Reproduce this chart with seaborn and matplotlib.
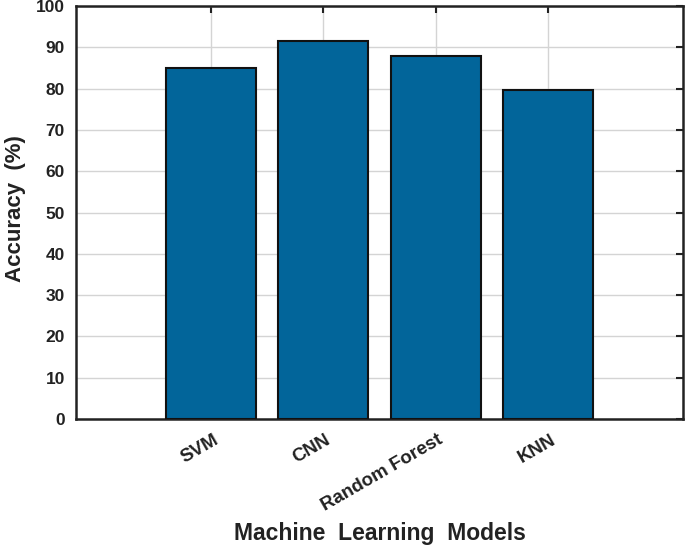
import matplotlib
matplotlib.use("Agg")
import matplotlib.pyplot as plt
import matplotlib.transforms as mtransforms
import seaborn as sns
import pandas as pd

models = ["SVM", "CNN", "Random Forest", "KNN"]
accuracy = [85.0, 91.6, 88.0, 79.7]
yticks = [0, 10, 20, 30, 40, 50, 60, 70, 80, 90, 100]

df = pd.DataFrame({"model": models, "accuracy": accuracy})

sns.set_style("white")
plt.rcParams["font.family"] = ["Liberation Sans", "DejaVu Sans"]
plt.rcParams["font.weight"] = "bold"

fig = plt.figure(figsize=(6.85, 5.47), dpi=100)
ax = fig.add_axes([0.111, 0.234, 0.886, 0.755])

sns.barplot(data=df, x="model", y="accuracy", color="#02659a", saturation=1,
            width=0.8, edgecolor="#111111", linewidth=1.5, ax=ax, zorder=3)

ax.set_xlim(-1.2, 4.2)
ax.set_ylim(0, 100)
ax.set_yticks(yticks)
ax.grid(True, color="#d4d4d4", linewidth=1.0, zorder=0)
ax.set_axisbelow(True)
for s in ax.spines.values():
    s.set_linewidth(1.8)
    s.set_color("#222222")

ax.tick_params(axis="both", direction="in", length=5, width=1.5,
               top=True, right=True, colors="#222222")
ax.tick_params(axis="y", labelsize=12.5, pad=8)
ax.tick_params(axis="x", labelsize=13.5, pad=9)

# shift rotated labels a little right, like the reference
shift = mtransforms.ScaledTranslation(2 / 100, 0, fig.dpi_scale_trans)
for lab in ax.get_xticklabels():
    lab.set_rotation(30)
    lab.set_ha("right")
    lab.set_rotation_mode("anchor")
    lab.set_fontweight("bold")
    lab.set_color("#222222")
    lab.set_transform(lab.get_transform() + shift)
plt.setp(ax.get_yticklabels(), fontweight="bold", color="#222222")

ax.set_xlabel("Machine  Learning  Models", fontsize=16.5, fontweight="bold",
              color="#222222")
ax.set_ylabel("Accuracy  (%)", fontsize=16, fontweight="bold",
              color="#222222")
ax.xaxis.set_label_coords(0.5, -0.25)
ax.yaxis.set_label_coords(-0.083, 0.51)

fig.savefig("out.png", dpi=100)
